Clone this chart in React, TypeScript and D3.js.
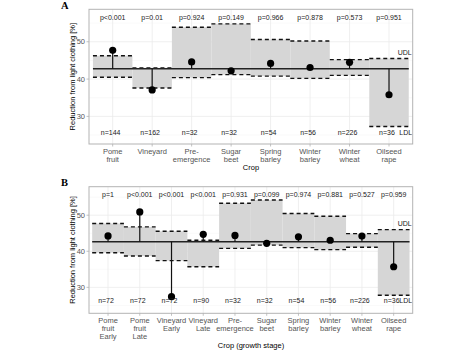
import React from 'react';
import * as d3 from 'd3';

// Panel A: crop
const cropsA = [['Pome', 'fruit'], ['Vineyard'], ['Pre-', 'emergence'], ['Sugar', 'beet'], ['Spring', 'barley'], ['Winter', 'barley'], ['Winter', 'wheat'], ['Oilseed', 'rape']];
const meanA = 42.8;
const upperA = [46.25, 43.0, 53.9, 54.8, 50.6, 50.2, 45.2, 45.5];
const lowerA = [40.5, 37.6, 40.4, 41.2, 40.8, 40.2, 41.0, 27.3];
const pointA = [47.7, 37.1, 44.6, 42.2, 44.2, 43.1, 44.5, 35.8];
const pA = ['p<0.001', 'p=0.01', 'p=0.924', 'p=0.149', 'p=0.966', 'p=0.878', 'p=0.573', 'p=0.951'];
const nA = ['n=144', 'n=162', 'n=32', 'n=32', 'n=54', 'n=56', 'n=226', 'n=36'];

// Panel B: crop (growth stage)
const cropsB = [['Pome', 'fruit', 'Early'], ['Pome', 'fruit', 'Late'], ['Vineyard', 'Early'], ['Vineyard', 'Late'], ['Pre-', 'emergence'], ['Sugar', 'beet'], ['Spring', 'barley'], ['Winter', 'barley'], ['Winter', 'wheat'], ['Oilseed', 'rape']];
const meanB = 42.67;
const upperB = [47.7, 46.75, 45.55, 43.05, 53.3, 54.2, 50.45, 49.7, 44.9, 46.0];
const lowerB = [39.6, 38.7, 37.4, 35.7, 40.8, 41.7, 41.0, 40.45, 41.1, 27.8];
const pointB = [44.25, 50.9, 27.4, 44.7, 44.4, 42.2, 44.0, 43.05, 44.2, 35.7];
const pB = ['p=1', 'p<0.001', 'p<0.001', 'p<0.001', 'p=0.931', 'p=0.099', 'p=0.974', 'p=0.881', 'p=0.527', 'p=0.959'];
const nB = ['n=72', 'n=72', 'n=72', 'n=90', 'n=32', 'n=32', 'n=54', 'n=56', 'n=226', 'n=36'];

const majorTicks = [30, 40, 50];
const minorTicks = [25, 35, 45, 55];

const FONT = '"Liberation Sans", Arial, sans-serif';

interface PanelProps {
  tag: string;
  crops: string[][];
  mean: number;
  upper: number[];
  lower: number[];
  point: number[];
  pLabels: string[];
  nLabels: string[];
  xTitle: string;
  top: number;
  bottom: number;
  yDomain: [number, number];
  pY: number;
  nY: number;
  udlY: number;
  titleY: number;
}

const Panel: React.FC<PanelProps> = ({ tag, crops, mean, upper, lower, point, pLabels, nLabels, xTitle, top, bottom, yDomain, pY, nY, udlY, titleY }) => {
  const left = 89;
  const right = 412.7;
  const n = crops.length;
  const x = d3.scaleLinear().domain([0.4, n + 0.6]).range([left, right]);
  const y = d3.scaleLinear().domain(yDomain).range([bottom, top]);
  const idx = d3.range(n);

  return (
    <g>
      <text x={61} y={top - 0.5} fontFamily='"Liberation Serif", "Times New Roman", serif' fontWeight="bold" fontSize={10.5}>{tag}</text>
      <rect x={left} y={top} width={right - left} height={bottom - top} fill="#fff" />
      {minorTicks.map(t => (
        <line key={'mi' + t} x1={left} x2={right} y1={y(t)} y2={y(t)} stroke="#f3f3f3" strokeWidth={0.5} />
      ))}
      {majorTicks.map(t => (
        <line key={'ma' + t} x1={left} x2={right} y1={y(t)} y2={y(t)} stroke="#ebebeb" strokeWidth={0.8} />
      ))}
      {idx.map(i => (
        <line key={'gx' + i} x1={x(i + 1)} x2={x(i + 1)} y1={top} y2={bottom} stroke="#ebebeb" strokeWidth={0.8} />
      ))}
      {idx.map(i => (
        <rect key={'r' + i} x={x(i + 0.5)} width={x(i + 1.5) - x(i + 0.5)} y={y(upper[i])} height={y(lower[i]) - y(upper[i])} fill="#d6d6d6" />
      ))}
      {idx.map(i => (
        <g key={'d' + i}>
          <line x1={x(i + 0.5)} x2={x(i + 1.5)} y1={y(upper[i])} y2={y(upper[i])} stroke="#111" strokeWidth={1.4} strokeDasharray="4,3" />
          <line x1={x(i + 0.5)} x2={x(i + 1.5)} y1={y(lower[i])} y2={y(lower[i])} stroke="#111" strokeWidth={1.4} strokeDasharray="4,3" />
        </g>
      ))}
      <line x1={x(0.5)} x2={x(n + 0.5)} y1={y(mean)} y2={y(mean)} stroke="#222" strokeWidth={1.5} />
      {idx.map(i => (
        <g key={'p' + i}>
          <line x1={x(i + 1)} x2={x(i + 1)} y1={y(mean)} y2={y(point[i])} stroke="#111" strokeWidth={1.2} />
          <circle cx={x(i + 1)} cy={y(point[i])} r={3.6} fill="#000" />
        </g>
      ))}
      <g fontFamily={FONT} fontSize={7} fill="#1a1a1a" textAnchor="middle">
        {idx.map(i => (
          <text key={'pl' + i} x={x(i + 1)} y={y(pY)} dy="0.35em">{pLabels[i]}</text>
        ))}
        {idx.map(i => (
          <text key={'nl' + i} x={x(i + 1) - 2} y={y(nY)} dy="0.35em">{nLabels[i]}</text>
        ))}
        <text x={right - 1} y={y(udlY)} dy="0.35em" textAnchor="end">UDL</text>
        <text x={right - 0.5} y={y(nY)} dy="0.35em" textAnchor="end">LDL</text>
      </g>
      <rect x={left} y={top} width={right - left} height={bottom - top} fill="none" stroke="#b3b3b3" strokeWidth={1} />
      {majorTicks.map(t => (
        <g key={'yt' + t}>
          <line x1={left - 2.5} x2={left} y1={y(t)} y2={y(t)} stroke="#b3b3b3" strokeWidth={0.8} />
          <text x={left - 4} y={y(t)} dy="0.35em" textAnchor="end" fontFamily={FONT} fontSize={7.5} fill="#555">{t}</text>
        </g>
      ))}
      {idx.map(i => (
        <g key={'xt' + i}>
          <line x1={x(i + 1)} x2={x(i + 1)} y1={bottom} y2={bottom + 2.5} stroke="#b3b3b3" strokeWidth={0.8} />
          {crops[i].map((s, k) => (
            <text key={k} x={x(i + 1)} y={bottom + 9.7 + k * 8.2} textAnchor="middle" fontFamily={FONT} fontSize={7.5} fill="#555">{s}</text>
          ))}
        </g>
      ))}
      <text x={251} y={titleY} textAnchor="middle" fontFamily={FONT} fontSize={7.5} fill="#000">{xTitle}</text>
      <text transform={`translate(74.5,${(top + bottom) / 2}) rotate(-90)`} textAnchor="middle" fontFamily={FONT} fontSize={7.5} fill="#000">Reduction from light clothing [%]</text>
    </g>
  );
};

export default function App() {
  return (
    <svg width={474} height={352} style={{ position: 'absolute', left: 0, top: 0, background: '#fff' }}>
      <rect width={474} height={352} fill="#fff" />
      <Panel tag="A" crops={cropsA} mean={meanA} upper={upperA} lower={lowerA} point={pointA} pLabels={pA} nLabels={nA}
        xTitle="Crop" top={9.3} bottom={144} yDomain={[22.6, 58.7]} pY={56.5} nY={25.8} udlY={47.2} titleY={169.5} />
      <Panel tag="B" crops={cropsB} mean={meanB} upper={upperB} lower={lowerB} point={pointB} pLabels={pB} nLabels={nB}
        xTitle="Crop (growth stage)" top={186.7} bottom={313.3} yDomain={[22.8, 57.9]} pY={55.8} nY={26.2} udlY={47.7} titleY={347.8} />
    </svg>
  );
}
